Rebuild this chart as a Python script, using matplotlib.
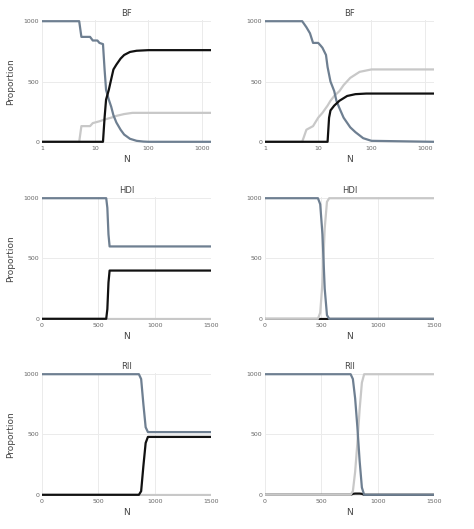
import matplotlib.pyplot as plt
import numpy as np

BLUE = "#6e7f91"
BLACK = "#111111"
LIGHT = "#c8c8c8"

# BF, left panel (log N)
bf1_n_blue = [1, 5, 5.5, 8, 9, 11, 12, 14, 15, 16, 18, 20, 22, 25, 30, 35, 45, 60, 80, 100, 1500]
bf1_blue = [1000, 1000, 870, 870, 840, 840, 820, 810, 600, 430, 350, 290, 220, 160, 100, 60, 25, 8, 2, 0, 0]
bf1_n_black = [1, 14, 15, 16, 18, 20, 22, 25, 30, 35, 45, 60, 100, 1500]
bf1_black = [0, 0, 200, 350, 430, 520, 600, 640, 690, 720, 745, 755, 760, 760]
bf1_n_light = [1, 5, 5.5, 8, 9, 12, 15, 20, 25, 35, 50, 100, 1500]
bf1_light = [0, 0, 130, 130, 155, 170, 185, 200, 215, 230, 240, 240, 240]

# BF, right panel (log N)
bf2_n_blue = [1, 5, 6, 7, 8, 10, 11, 12, 14, 15, 17, 20, 22, 25, 30, 40, 50, 70, 100, 1500]
bf2_blue = [1000, 1000, 950, 900, 820, 820, 800, 780, 720, 620, 500, 420, 340, 280, 200, 120, 80, 30, 8, 0]
bf2_n_black = [1, 15, 16, 17, 20, 25, 35, 50, 80, 1500]
bf2_black = [0, 0, 200, 260, 300, 340, 380, 395, 400, 400]
bf2_n_light = [1, 5, 6, 8, 10, 12, 15, 17, 20, 25, 30, 40, 60, 100, 1500]
bf2_light = [0, 0, 100, 130, 200, 240, 300, 340, 380, 420, 470, 530, 580, 600, 600]

# HDI
hdi1_n = [0, 570, 580, 590, 600, 1500]
hdi1_blue = [1000, 1000, 920, 700, 600, 600]
hdi1_black = [0, 0, 80, 300, 400, 400]
hdi1_light = [0, 0, 0, 0, 0, 0]

hdi2_n = [0, 470, 490, 510, 530, 550, 570, 1500]
hdi2_blue = [1000, 1000, 950, 700, 250, 30, 0, 0]
hdi2_light = [0, 0, 50, 300, 750, 970, 1000, 1000]
hdi2_black = [0, 0, 0, 0, 0, 0, 0, 0]

# RII
rii1_n = [0, 860, 880, 900, 920, 940, 1500]
rii1_blue = [1000, 1000, 960, 750, 560, 520, 520]
rii1_black = [0, 0, 30, 240, 430, 480, 480]
rii1_light = [0, 0, 0, 0, 0, 0, 0]

rii2_n = [0, 760, 780, 800, 820, 840, 860, 880, 1500]
rii2_blue = [1000, 1000, 960, 800, 560, 280, 60, 0, 0]
rii2_light = [0, 0, 30, 190, 430, 710, 930, 1000, 1000]
rii2_black = [0, 0, 8, 10, 10, 10, 8, 0, 0]

panels = [
    ("BF", True, [(bf1_n_light, bf1_light, LIGHT), (bf1_n_blue, bf1_blue, BLUE), (bf1_n_black, bf1_black, BLACK)]),
    ("BF", True, [(bf2_n_light, bf2_light, LIGHT), (bf2_n_blue, bf2_blue, BLUE), (bf2_n_black, bf2_black, BLACK)]),
    ("HDI", False, [(hdi1_n, hdi1_light, LIGHT), (hdi1_n, hdi1_blue, BLUE), (hdi1_n, hdi1_black, BLACK)]),
    ("HDI", False, [(hdi2_n, hdi2_black, BLACK), (hdi2_n, hdi2_light, LIGHT), (hdi2_n, hdi2_blue, BLUE)]),
    ("RII", False, [(rii1_n, rii1_light, LIGHT), (rii1_n, rii1_blue, BLUE), (rii1_n, rii1_black, BLACK)]),
    ("RII", False, [(rii2_n, rii2_black, BLACK), (rii2_n, rii2_light, LIGHT), (rii2_n, rii2_blue, BLUE)]),
]

fig = plt.figure(figsize=(4.74, 5.29), dpi=100)
W, H = 474, 529
lefts = [42, 265]
tops = [20, 197, 373]
for i, (title, logx, series) in enumerate(panels):
    r, c = divmod(i, 2)
    ax = fig.add_axes([lefts[c] / W, 1 - (tops[r] + 123) / H, 169 / W, 123 / H])
    for n, v, col in series:
        ax.plot(n, v, color=col, lw=1.6, solid_joinstyle="round")
    if logx:
        ax.set_xscale("log")
        ax.set_xlim(1, 1500)
        ax.set_xticks([1, 10, 100, 1000])
        ax.set_xticklabels(["1", "10", "100", "1000"])
        ax.minorticks_off()
    else:
        ax.set_xlim(0, 1500)
        ax.set_xticks([0, 500, 1000, 1500])
    ax.set_ylim(-10, 1010)
    ax.set_yticks([0, 500, 1000])
    ax.grid(True, color="#ebebeb", lw=0.7)
    for s in ax.spines.values():
        s.set_visible(False)
    ax.tick_params(length=0, labelsize=4.5, colors="#666666", pad=2)
    ax.set_title(title, fontsize=6, color="#444444", pad=3)
    ax.set_xlabel("N", fontsize=6.5, color="#444444", labelpad=3)
    if c == 0:
        ax.set_ylabel("Proportion", fontsize=6.5, color="#444444", labelpad=6)

fig.savefig("out.png", dpi=100)
